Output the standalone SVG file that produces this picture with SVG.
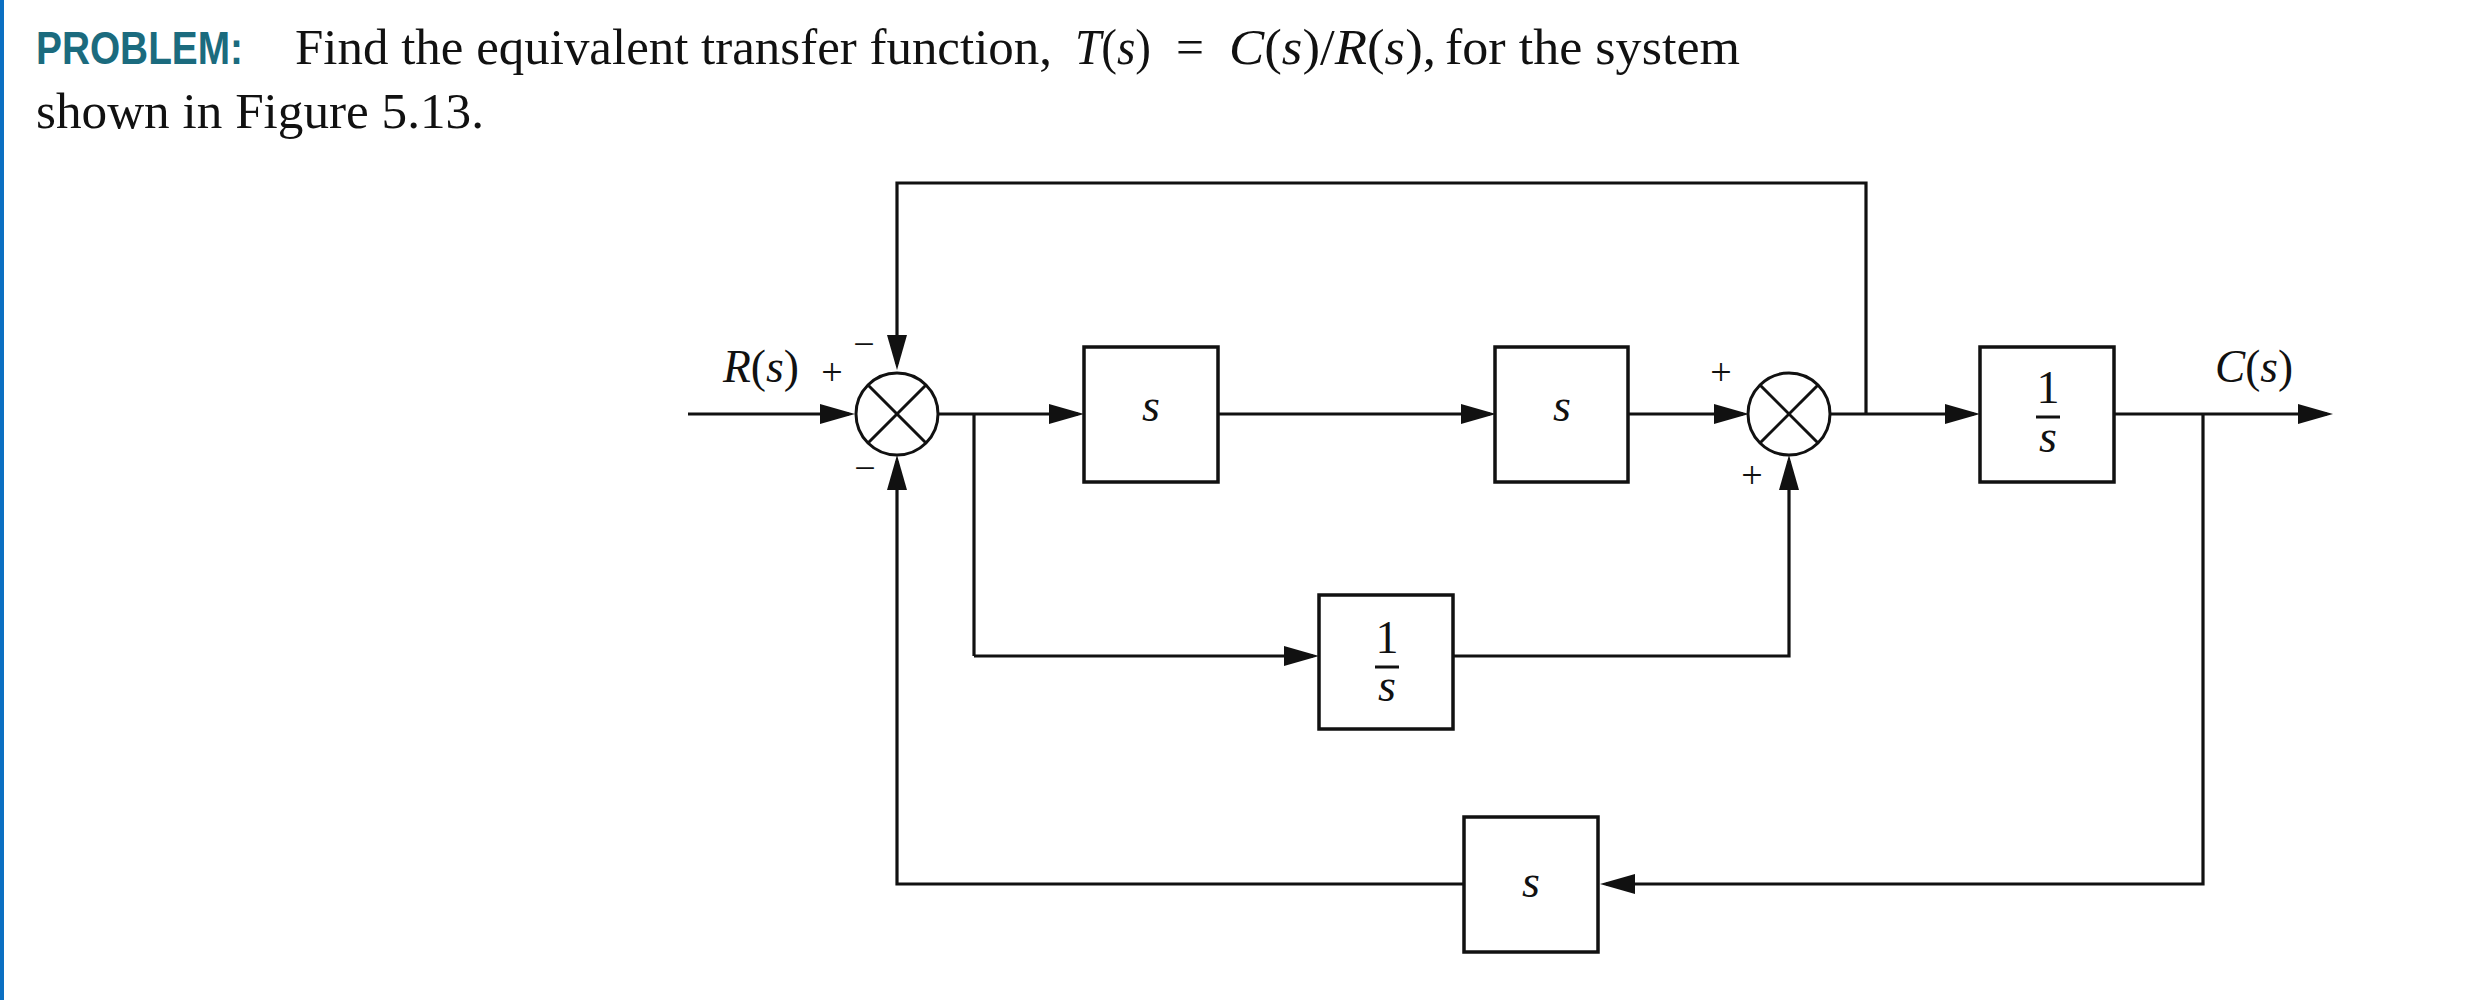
<svg xmlns="http://www.w3.org/2000/svg" width="2487" height="1000" viewBox="0 0 2487 1000">
<style>
.bg{fill:#ffffff}
.bar{fill:#0b6fc2}
.title{font-family:"Liberation Sans Narrow","Liberation Sans",Arial,sans-serif;font-weight:bold;font-size:47px;fill:#1b6b7e}
.txt{font-family:"Liberation Serif","Times New Roman",serif;font-size:50px;fill:#111}
.it{font-style:italic}
.lbl{font-family:"Liberation Serif","Times New Roman",serif;font-size:46px;fill:#111}
.sign{font-family:"Liberation Serif","Times New Roman",serif;font-size:38px;fill:#111}
.blk{fill:#fff;stroke:#111;stroke-width:3.5}
.sum{fill:#fff;stroke:#111;stroke-width:3}
.x{stroke:#111;stroke-width:3}
.wire{fill:none;stroke:#111;stroke-width:3.2;stroke-linejoin:miter}
.arr{marker-end:url(#ah)}
.frac{stroke:#111;stroke-width:3}
</style>
<defs>
<marker id="ah" viewBox="0 0 35 20" refX="29" refY="10" markerWidth="35" markerHeight="20" markerUnits="userSpaceOnUse" orient="auto">
<path d="M0,0 L35,10 L0,20 Z" fill="#111"/>
</marker>
</defs>
<rect class="bg" x="0" y="0" width="2487" height="1000"/>
<rect class="bar" x="0" y="0" width="4" height="1000"/>

<g id="problem-text">
<text class="title" x="36" y="64" textLength="207" lengthAdjust="spacingAndGlyphs">PROBLEM:</text>
<text class="txt" x="295" y="64" textLength="757" lengthAdjust="spacingAndGlyphs">Find the equivalent transfer function,</text>
<text class="txt" x="1075" y="64" textLength="76" lengthAdjust="spacingAndGlyphs"><tspan class="it">T</tspan>(<tspan class="it">s</tspan>)</text>
<text class="txt" x="1176" y="64" textLength="28" lengthAdjust="spacingAndGlyphs">=</text>
<text class="txt" x="1229" y="64" textLength="207" lengthAdjust="spacingAndGlyphs"><tspan class="it">C</tspan>(<tspan class="it">s</tspan>)/<tspan class="it">R</tspan>(<tspan class="it">s</tspan>),</text>
<text class="txt" x="1445" y="64" textLength="295" lengthAdjust="spacingAndGlyphs">for the system</text>
<text class="txt" x="36" y="128" textLength="448" lengthAdjust="spacingAndGlyphs">shown in Figure 5.13.</text>
</g>

<g id="connectors">
<path class="wire arr" d="M688,414 L849,414"/>
<path class="wire arr" d="M1866,414 L1866,183 L897,183 L897,364"/>
<path class="wire arr" d="M938,414 L1078,414"/>
<path class="wire" d="M974,414 L974,656"/>
<path class="wire arr" d="M974,656 L1313,656"/>
<path class="wire arr" d="M1218,414 L1490,414"/>
<path class="wire arr" d="M1628,414 L1743,414"/>
<path class="wire arr" d="M1453,656 L1789,656 L1789,461"/>
<path class="wire arr" d="M1830,414 L1974,414"/>
<path class="wire arr" d="M2114,414 L2327,414"/>
<path class="wire arr" d="M2203,414 L2203,884 L1606,884"/>
<path class="wire arr" d="M1464,884 L897,884 L897,461"/>
</g>

<g id="R-label"><text class="lbl" x="723" y="382" textLength="76" lengthAdjust="spacingAndGlyphs"><tspan class="it">R</tspan>(<tspan class="it">s</tspan>)</text></g>
<g id="C-label"><text class="lbl" x="2215" y="382" textLength="78" lengthAdjust="spacingAndGlyphs"><tspan class="it">C</tspan>(<tspan class="it">s</tspan>)</text></g>

<g id="sum1">
<circle class="sum" cx="897" cy="414" r="41"/>
<line class="x" x1="868" y1="385" x2="926" y2="443"/>
<line class="x" x1="926" y1="385" x2="868" y2="443"/>
<text class="sign" x="832" y="385" text-anchor="middle">+</text>
<text class="sign" x="864" y="357" text-anchor="middle">−</text>
<text class="sign" x="865" y="481" text-anchor="middle">−</text>
</g>

<g id="sum2">
<circle class="sum" cx="1789" cy="414" r="41"/>
<line class="x" x1="1760" y1="385" x2="1818" y2="443"/>
<line class="x" x1="1818" y1="385" x2="1760" y2="443"/>
<text class="sign" x="1721" y="385" text-anchor="middle">+</text>
<text class="sign" x="1752" y="488" text-anchor="middle">+</text>
</g>

<g id="block-s1">
<rect class="blk" x="1084" y="347" width="134" height="135"/>
<text class="lbl it" x="1151" y="421" text-anchor="middle">s</text>
</g>

<g id="block-s2">
<rect class="blk" x="1495" y="347" width="133" height="135"/>
<text class="lbl it" x="1562" y="421" text-anchor="middle">s</text>
</g>

<g id="block-1overs-fwd">
<rect class="blk" x="1980" y="347" width="134" height="135"/>
<text class="lbl" x="2048" y="403" text-anchor="middle">1</text>
<line class="frac" x1="2036" y1="417" x2="2060" y2="417"/>
<text class="lbl it" x="2048" y="452" text-anchor="middle">s</text>
</g>

<g id="block-1overs-par">
<rect class="blk" x="1319" y="595" width="134" height="134"/>
<text class="lbl" x="1387" y="653" text-anchor="middle">1</text>
<line class="frac" x1="1375" y1="667" x2="1399" y2="667"/>
<text class="lbl it" x="1387" y="701" text-anchor="middle">s</text>
</g>

<g id="block-s-fb">
<rect class="blk" x="1464" y="817" width="134" height="135"/>
<text class="lbl it" x="1531" y="897" text-anchor="middle">s</text>
</g>
</svg>
